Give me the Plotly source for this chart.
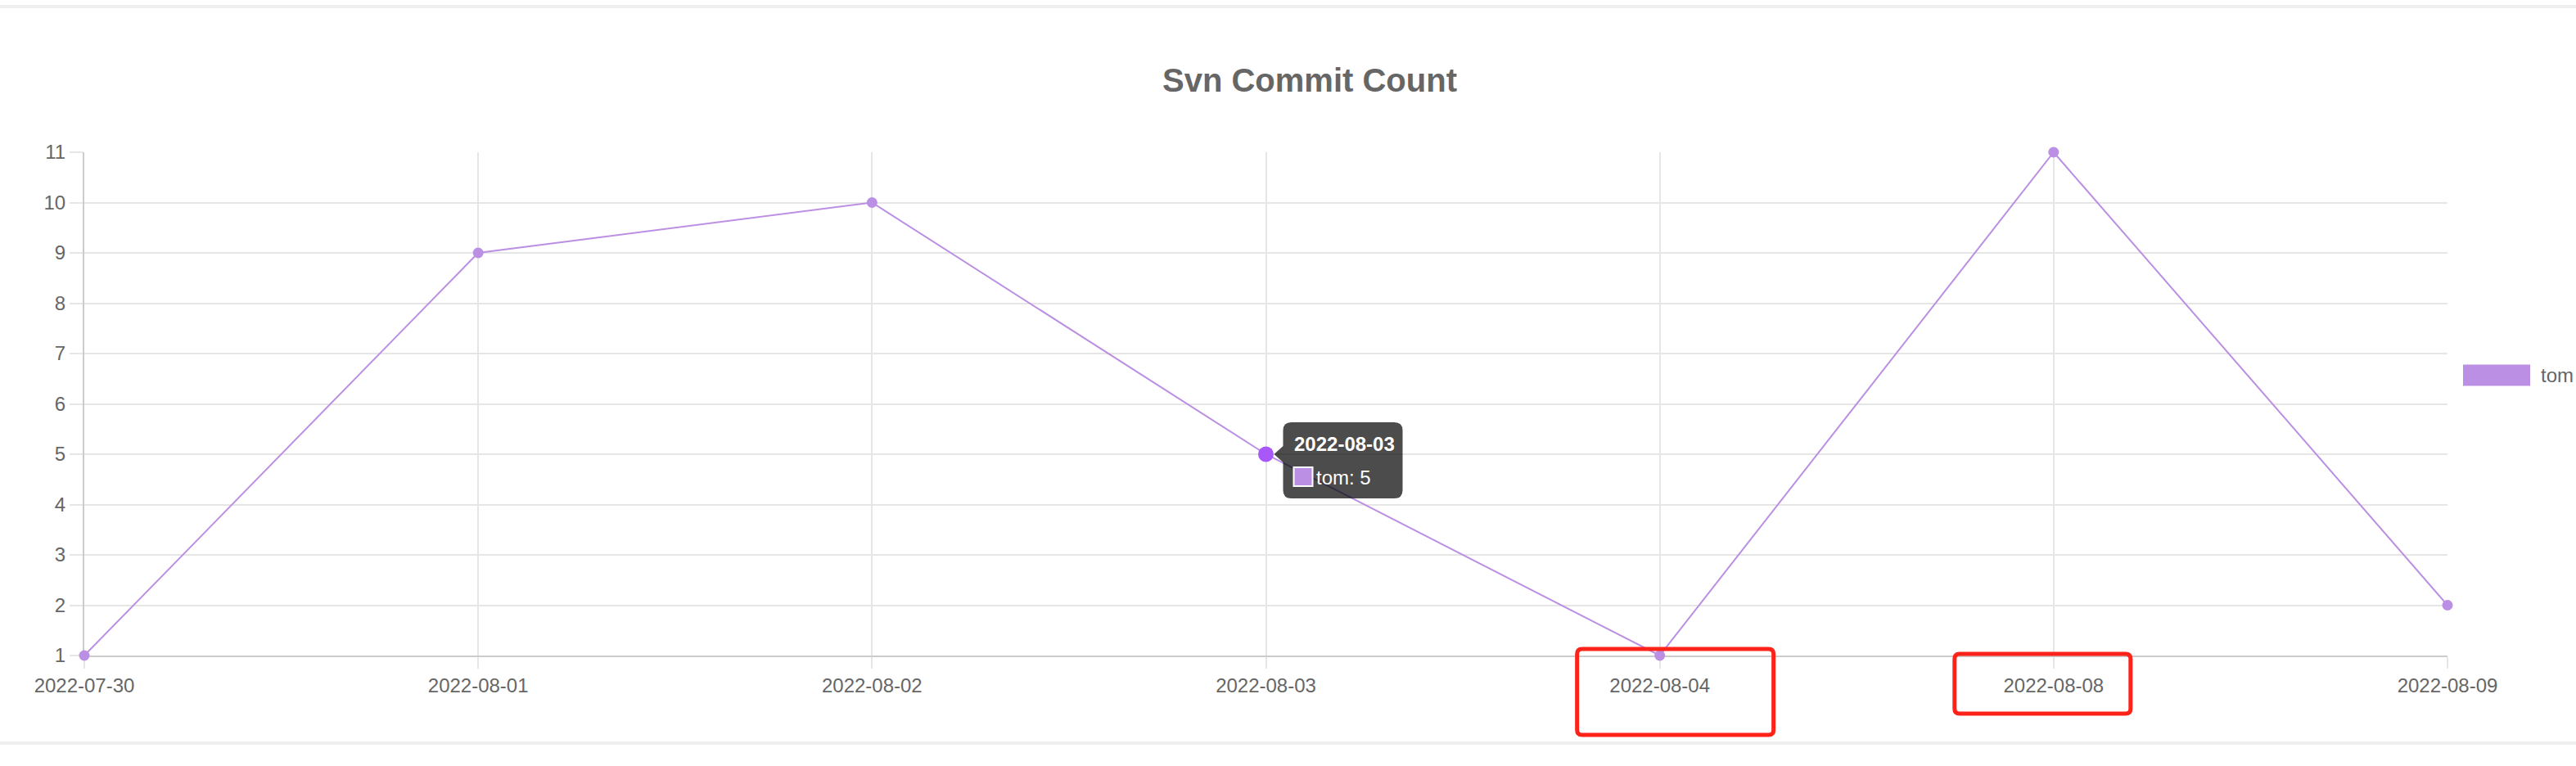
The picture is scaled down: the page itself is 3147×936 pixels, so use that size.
import plotly.graph_objects as go

# --- data -------------------------------------------------------------
dates = ["2022-07-30", "2022-08-01", "2022-08-02", "2022-08-03",
         "2022-08-04", "2022-08-08", "2022-08-09"]
commits = [1, 9, 10, 5, 1, 11, 2]
author = "tom"
y_ticks = list(range(1, 12))
hover_idx = 3                      # point under the tooltip
highlighted = ["2022-08-04", "2022-08-08"]

# --- style ------------------------------------------------------------
COLORS = dict(line="#bb8fe3", hover="#a857f8", text="#666666", grid="#e6e6e6",
              axis="#cccccc", tip="rgba(0,0,0,0.7)", red="#fd2319", rule="#efefef")
FONT = "Liberation Sans, Arial, sans-serif"
W, H = 3147, 936
MARGIN = dict(l=103, r=157, t=186, b=135)
# pixel offsets (left, right, top, bottom) of the red boxes around tick labels
BOX_OFFSETS = [(-101, 139, 8, -97), (-121, 94, 2, -71)]


def rounded_path(x0, x1, y0, y1, r, caret=None):
    """Rounded rectangle in pixel offsets (y up), optional caret on the left."""
    p = (f"M{x0 + r},{y1} L{x1 - r},{y1} Q{x1},{y1} {x1},{y1 - r} "
         f"L{x1},{y0 + r} Q{x1},{y0} {x1 - r},{y0} L{x0 + r},{y0} "
         f"Q{x0},{y0} {x0},{y0 + r}")
    if caret:
        tip, half = caret
        p += f" L{x0},{-half} L{tip},0 L{x0},{half}"
    return p + f" L{x0},{y1 - r} Q{x0},{y1} {x0 + r},{y1} Z"


fig = go.Figure()
fig.add_trace(go.Scatter(
    x=dates, y=commits, name=author, mode="lines+markers", cliponaxis=False,
    line=dict(color=COLORS["line"], width=2),
    marker=dict(color=COLORS["line"], size=13)))
fig.add_trace(go.Scatter(
    x=[dates[hover_idx]], y=[commits[hover_idx]], mode="markers", cliponaxis=False,
    marker=dict(color=COLORS["hover"], size=19), showlegend=False))

shapes = []
# page rules top / bottom
for yanchor, off in [(1, 178), (0, -107)]:
    shapes.append(dict(type="line", xref="paper", x0=-0.06, x1=1.07,
                       yref="paper", ysizemode="pixel", yanchor=yanchor, y0=off, y1=off,
                       line=dict(color=COLORS["rule"], width=4), layer="below"))

# legend swatch
shapes.append(dict(type="rect", xref="paper", xsizemode="pixel", xanchor=1, x0=19, x1=101,
                   yref="paper", ysizemode="pixel", yanchor=0.5, y0=22, y1=48,
                   fillcolor=COLORS["line"], line=dict(width=0)))

# tooltip box + colour box
tip_anchor = dict(xref="x", xsizemode="pixel", xanchor=dates[hover_idx],
                  yref="y", ysizemode="pixel", yanchor=commits[hover_idx])
shapes.append(dict(type="path", path=rounded_path(21, 167, -54, 39, 10, caret=(10, 10)),
                   fillcolor=COLORS["tip"], line=dict(width=0), **tip_anchor))
shapes.append(dict(type="rect", x0=34, x1=57, y0=-16, y1=-39,
                   fillcolor=COLORS["line"], line=dict(color="white", width=2), **tip_anchor))

# red highlight boxes around two tick labels
for d, (l, r, t, b) in zip(highlighted, BOX_OFFSETS):
    shapes.append(dict(type="path", path=rounded_path(l, r, b, t, 6),
                       xref="x", xsizemode="pixel", xanchor=d,
                       yref="paper", ysizemode="pixel", yanchor=0,
                       line=dict(color=COLORS["red"], width=5)))

annotations = [
    dict(text=author, xref="paper", x=1, xanchor="left", xshift=112,
         yref="paper", y=0.5, yanchor="middle", yshift=35, showarrow=False,
         font=dict(size=24, color=COLORS["text"])),
    dict(text=f"<b>{dates[hover_idx]}</b>", xref="x", x=dates[hover_idx], xanchor="left",
         xshift=33, yref="y", y=commits[hover_idx], yanchor="middle", yshift=13,
         showarrow=False, borderpad=0, font=dict(size=24, color="white")),
    dict(text=f"{author}: {commits[hover_idx]}", xref="x", x=dates[hover_idx], xanchor="left",
         xshift=60, yref="y", y=commits[hover_idx], yanchor="middle", yshift=-28,
         showarrow=False, borderpad=0, font=dict(size=24, color="white")),
]

axis_common = dict(showgrid=True, gridcolor=COLORS["grid"], gridwidth=2, zeroline=False,
                   showline=True, linecolor=COLORS["axis"], linewidth=2,
                   layer="below traces",
                   ticks="outside", tickcolor=COLORS["grid"], tickwidth=2,
                   tickfont=dict(size=24, color=COLORS["text"]))

fig.update_layout(
    width=W, height=H, margin=MARGIN, showlegend=False, hovermode=False,
    plot_bgcolor="white", paper_bgcolor="white",
    font=dict(family=FONT, color=COLORS["text"]),
    title=dict(text="Svn Commit Count", x=1600 / W, xref="container", xanchor="center",
               y=1 - 98 / H, yref="container", yanchor="middle",
               font=dict(size=40, color=COLORS["text"], weight="bold")),
    xaxis=dict(type="category", range=[0, len(dates) - 1], ticklen=14, **axis_common),
    yaxis=dict(range=[y_ticks[0], y_ticks[-1]], tickvals=y_ticks, ticklen=16, **axis_common),
    shapes=shapes, annotations=annotations)

# drop the default page margin so the figure sits at the window origin
fig.write_html("out.html", config={"displayModeBar": False},
               post_script="document.body.style.margin = '0';")
